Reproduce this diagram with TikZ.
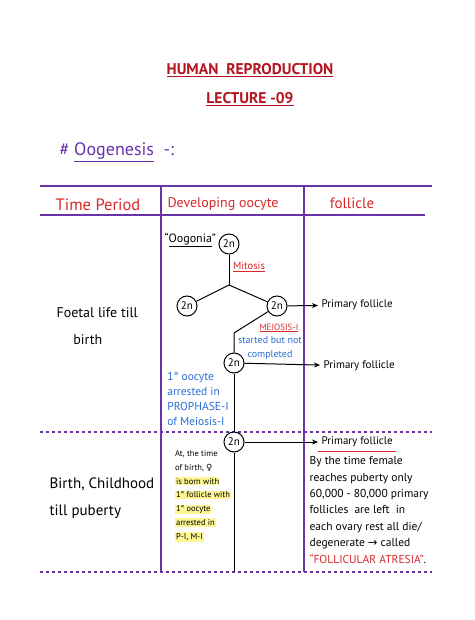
\documentclass[tikz,border=0pt]{standalone}
\usepackage{fontspec}
\setmainfont{PT Sans}
\newfontfamily\symfont{DejaVu Sans}
\usetikzlibrary{arrows.meta, positioning}

\definecolor{rulepurple}{RGB}{104,52,168}
\definecolor{penred}{RGB}{214,40,40}
\definecolor{titlered}{RGB}{180,20,30}
\definecolor{penblue}{RGB}{40,110,215}
\definecolor{hiyellow}{RGB}{255,246,150}

\newcommand{\hl}[1]{{\setlength{\fboxsep}{1pt}\colorbox{hiyellow}{#1}}}

\begin{document}
\begin{tikzpicture}[
    x = 1pt,
    y = -1pt,
    semithick,
    rule/.style = {draw = rulepurple, line width = 1.6pt},
    link/.style = {draw = black, line width = 1pt},
    develop/.style = {link, -{Stealth[length=6pt, width=5pt]}},
    head/.style = {text = penred, font = \fontsize{14}{16}\selectfont},
    period/.style = {align = left, anchor = west, font = \fontsize{14}{27}\selectfont},
    ]

    \tikzstyle{cell}=[
    circle,
    draw = black,
    line width = 1pt,
    fill = white,
    minimum size = 20pt,
    inner sep = 0pt,
    font = \fontsize{11}{12}\selectfont,
    ]

    \useasboundingbox (0,0) rectangle (474,620);

    % titles
    \node[text = titlered, font = \bfseries\fontsize{15.5}{17}\selectfont] (title) at (250,70) {\underline{HUMAN\ \ REPRODUCTION}};
    \node[text = titlered, font = \bfseries\fontsize{15.5}{17}\selectfont] (lecture) at (250,99) {\underline{LECTURE -09}};
    \node[text = rulepurple, anchor = west, font = \fontsize{18}{19}\selectfont] (topic) at (56,152) {\#\ \underline{Oogenesis}\ \ -:};

    % table
    \draw[rule] (40,186) -- (432,186);
    \draw[rule] (40,215) -- (425,215);
    \draw[rule] (161,186) -- (161,572);
    \draw[rule] (304,186) -- (304,572);
    \draw[rule, dashed, line width = 1.3pt] (40,432) -- (432,432);
    \draw[rule, dashed, line width = 1.3pt] (40,572) -- (432,572);

    \node[head, font = \fontsize{16.5}{18}\selectfont] (h1) at (98,205) {Time Period};
    \node[head] (h2) at (223,204) {Developing oocyte};
    \node[head, font = \fontsize{15}{17}\selectfont] (h3) at (352,203) {follicle};

    \node[period] (p1) at (53,326) {Foetal life till\\\hspace*{1.2em}birth};
    \node[period, font = \fontsize{15}{27}\selectfont] (p2) at (46,498) {Birth, Childhood\\till puberty};

    % oocyte development
    \node[cell] (og) at (229,244) {2n};
    \node[anchor = west, font = \fontsize{12}{14}\selectfont] (ogname) at (161,240) {“\underline{Oogonia}”};
    \coordinate (split) at (229,285);
    \node[cell] (c2l) at (187,306) {2n};
    \node[cell] (c2r) at (277,306) {2n};
    \coordinate (bend) at (234,333);
    \node[cell] (c3) at (234,363) {2n};
    \node[cell] (c4) at (234,442) {2n};
    \coordinate (tail) at (234,572);

    \node[text = penred, font = \fontsize{10.5}{11}\selectfont] (mit) at (249,267) {\underline{Mitosis}};
    \node[text = penred, font = \fontsize{9}{10}\selectfont] (mei) at (279,328) {\underline{MEIOSIS-I}};
    \node[text = penblue, align = center, font = \fontsize{10}{13.5}\selectfont] (start) at (270,348) {started but not\\completed};
    \node[text = penblue, align = left, font = \fontsize{11.5}{14.7}\selectfont] (arrest) at (198,399) {1° oocyte\\arrested in\\PROPHASE-I\\of Meiosis-I};
    \node[align = left, font = \fontsize{8.5}{13.8}\selectfont] (birth) at (203,496)
    {At, the time\\of birth, {\symfont ♀}\\\hl{is born with}\\\hl{1° follicle with}\\\hl{1° oocyte}\\\hl{arrested in}\\\hl{P-I, M-I}};

    \node[anchor = west, font = \fontsize{11}{12}\selectfont] (pf1) at (318,305) {Primary follicle};
    \node[anchor = west, font = \fontsize{11}{12}\selectfont] (pf2) at (320,366) {Primary follicle};
    \node[anchor = west, font = \fontsize{11}{12}\selectfont] (pf3) at (318,442) {Primary follicle};
    \draw[penred, line width = 0.8pt] ([yshift=-1pt]pf3.south west) -- ([yshift=-1pt]pf3.south east);

    \node[anchor = north west, align = left, font = \fontsize{11.5}{16.4}\selectfont] (note) at (306,453)
    {By the time female\\reaches puberty only\\60,000 - 80,000 primary\\follicles\ \ are left\ \ in\\each ovary rest all die/\\degenerate {\symfont →} called\\{\color{penred}“FOLLICULAR ATRESIA”}.};

    \path[link] (og) -- (split);
    \path[link] (split) -- (c2l);
    \path[link] (split) -- (c2r);
    \path[link] (c2r) -- (bend) -- (c3);
    \path[link] (c3) -- (c4);
    \path[link] (c4) -- (tail);

    \path[develop] (c2r) -- (pf1);
    \path[develop] (c3) -- (pf2);
    \path[develop] (c4) -- (pf3);
  \end{tikzpicture}
\end{document}
